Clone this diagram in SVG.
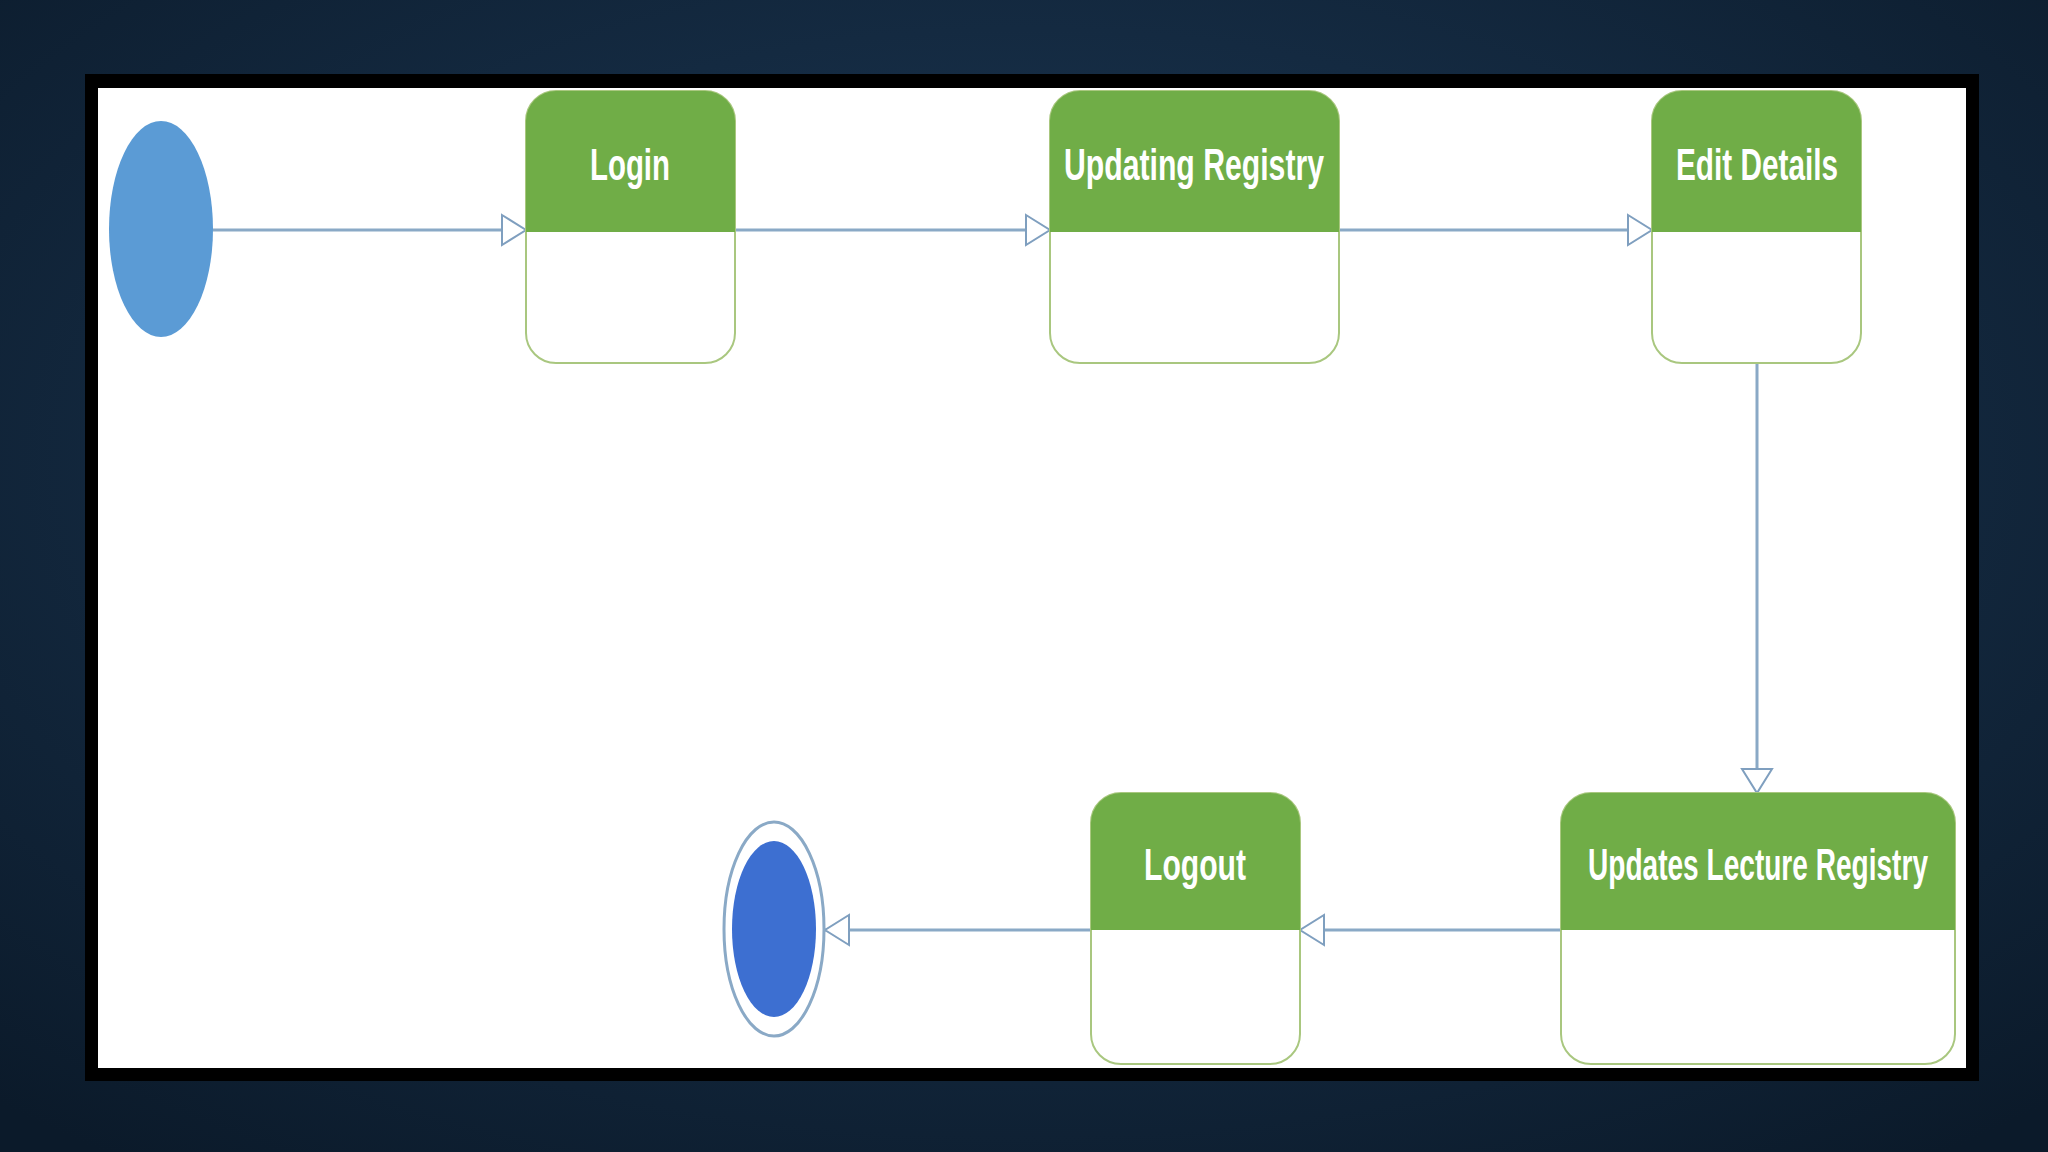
<svg xmlns="http://www.w3.org/2000/svg" width="2048" height="1152" viewBox="0 0 2048 1152">
<defs>
<radialGradient id="bg" cx="50%" cy="40%" r="75%"><stop offset="0" stop-color="#1d3a58"/><stop offset="1" stop-color="#0b1a2a"/></radialGradient>
<marker id="ah" markerWidth="28" markerHeight="34" refX="26" refY="17" orient="auto" markerUnits="userSpaceOnUse"><path d="M2,2 L26,17 L2,32 Z" fill="#fff" stroke="#7f9fbf" stroke-width="2"/></marker>
<style>
.box{fill:#fff;stroke:#a9c77f;stroke-width:2}
.hd{fill:#70ad47}
.t{font-family:"Liberation Sans",Arial,sans-serif;font-size:44px;font-weight:bold;fill:#fff;text-anchor:middle}
.c{stroke:#8aa9c6;stroke-width:3;fill:none;marker-end:url(#ah)}
</style>
</defs>
<rect width="2048" height="1152" fill="url(#bg)"/>
<rect x="85" y="74" width="1894" height="1007" fill="#000"/>
<rect x="98" y="88" width="1868" height="980" fill="#fff"/>
<g id="connectors">
<line class="c" x1="213" y1="230" x2="526" y2="230"/>
<line class="c" x1="735" y1="230" x2="1050" y2="230"/>
<line class="c" x1="1339" y1="230" x2="1652" y2="230"/>
<line class="c" x1="1757" y1="363" x2="1757" y2="793"/>
<line class="c" x1="1561" y1="930" x2="1300" y2="930"/>
<line class="c" x1="1091" y1="930" x2="825" y2="930"/>
</g>
<g id="start"><ellipse cx="161" cy="229" rx="52" ry="108" fill="#5b9bd5"/></g>
<g id="login"><rect class="box" x="526" y="91" width="209" height="272" rx="30"/><path class="hd" d="M556,91 H705 A30,30 0 0 1 735,121 V232 H526 V121 A30,30 0 0 1 556,91 Z"/><text class="t" x="630" y="180" textLength="80" lengthAdjust="spacingAndGlyphs">Login</text></g>
<g id="updating"><rect class="box" x="1050" y="91" width="289" height="272" rx="30"/><path class="hd" d="M1080,91 H1309 A30,30 0 0 1 1339,121 V232 H1050 V121 A30,30 0 0 1 1080,91 Z"/><text class="t" x="1194" y="180" textLength="260" lengthAdjust="spacingAndGlyphs">Updating Registry</text></g>
<g id="edit"><rect class="box" x="1652" y="91" width="209" height="272" rx="30"/><path class="hd" d="M1682,91 H1831 A30,30 0 0 1 1861,121 V232 H1652 V121 A30,30 0 0 1 1682,91 Z"/><text class="t" x="1757" y="180" textLength="162" lengthAdjust="spacingAndGlyphs">Edit Details</text></g>
<g id="updates"><rect class="box" x="1561" y="793" width="394" height="271" rx="30"/><path class="hd" d="M1591,793 H1925 A30,30 0 0 1 1955,823 V930 H1561 V823 A30,30 0 0 1 1591,793 Z"/><text class="t" x="1758" y="880" font-size="42" textLength="340" lengthAdjust="spacingAndGlyphs">Updates Lecture Registry</text></g>
<g id="logout"><rect class="box" x="1091" y="793" width="209" height="271" rx="30"/><path class="hd" d="M1121,793 H1270 A30,30 0 0 1 1300,823 V930 H1091 V823 A30,30 0 0 1 1121,793 Z"/><text class="t" x="1195" y="880" textLength="102" lengthAdjust="spacingAndGlyphs">Logout</text></g>
<g id="end"><ellipse cx="774" cy="929" rx="50" ry="107" fill="#fff" stroke="#8aa9c6" stroke-width="3"/><ellipse cx="774" cy="929" rx="42" ry="88" fill="#3d6fd1"/></g>
</svg>
